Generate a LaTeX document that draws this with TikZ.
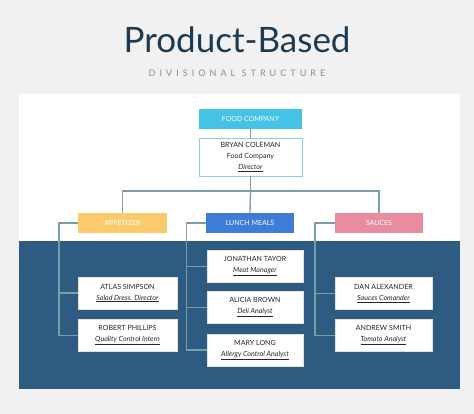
\documentclass[tikz,border=0pt]{standalone}
\usepackage{fontspec}
\setmainfont{Lato}
\definecolor{bgc}{HTML}{F1F1F1}
\definecolor{panelblue}{HTML}{2E5B81}
\definecolor{titlec}{HTML}{1C3A52}
\definecolor{subc}{HTML}{8A8A8A}
\definecolor{linec}{HTML}{7A9EA8}
\definecolor{foodc}{HTML}{45C3E6}
\definecolor{appc}{HTML}{FBCB6B}
\definecolor{lunchc}{HTML}{3D7DD8}
\definecolor{sauc}{HTML}{E98CA0}
\definecolor{bryb}{HTML}{8CCFD8}
\definecolor{childb}{HTML}{E6E1D3}
\definecolor{txtc}{HTML}{262626}
\newcommand{\roleline}[1]{\underline{\textit{#1}}}
\begin{document}
\begin{tikzpicture}[x=1pt,y=-1pt,
  headbox/.style={minimum width=88pt,minimum height=20pt,inner sep=0pt,text=white,font=\fontsize{7}{8}\selectfont},
  personbox/.style={draw=childb,line width=0.6pt,fill=white,minimum height=32pt,inner sep=0pt,align=center,text=txtc,font=\fontsize{7.1}{11}\selectfont},
  conn/.style={draw=linec,line width=1.3pt}]
\path[fill=bgc] (0,0) rectangle (474,414);
\fill[white] (19,94) rectangle (460,241);
\fill[panelblue] (19,241) rectangle (460,389);
\node[text=titlec,font=\fontsize{35}{40}\selectfont] (title) at (237,40) {Product-Based};
\node[text=subc,font=\fontsize{9}{10}\selectfont\addfontfeatures{LetterSpace=45}] (sub) at (237,73) {DIVISIONAL STRUCTURE};
% top
\node[headbox,fill=foodc,minimum width=103pt] (food) at (250.5,119) {FOOD COMPANY};
\node[personbox,draw=bryb,line width=0.8pt,minimum width=103pt,minimum height=38pt,font=\fontsize{7.1}{11.3}\selectfont] (bryan) at (250.5,157) {BRYAN COLEMAN\\Food Company\\\roleline{Director}};
% divisions
\node[headbox,fill=appc,minimum width=89pt] (app) at (122.5,223) {APPETIZER};
\node[headbox,fill=lunchc] (lunch) at (250,223) {LUNCH MEALS};
\node[headbox,fill=sauc] (sauces) at (379,223) {SAUCES};
% persons
\node[personbox,minimum width=99pt] (atlas) at (127.5,293) {ATLAS SIMPSON\\\roleline{Salad Dress. Director}};
\node[personbox,minimum width=99pt] (robert) at (127.5,335.5) {ROBERT PHILLIPS\\\roleline{Quality Control Intern}};
\node[personbox,minimum width=96pt] (jon) at (255,266.5) {JONATHAN TAYOR\\\roleline{Meat Manager}};
\node[personbox,minimum width=96pt] (alicia) at (255,307.5) {ALICIA BROWN\\\roleline{Deli Analyst}};
\node[personbox,minimum width=96pt] (mary) at (255,350) {MARY LONG\\\roleline{Allergy Control Analyst}};
\node[personbox,minimum width=97pt] (dan) at (383.5,293.5) {DAN ALEXANDER\\\roleline{Sauces Comander}};
\node[personbox,minimum width=97pt] (andrew) at (383.5,335.5) {ANDREW SMITH\\\roleline{Tomato Analyst}};
% connectors
\coordinate (bus) at (250.5,191);
\coordinate (abus) at (59,223);
\coordinate (lbus) at (186.5,223);
\coordinate (sbus) at (315,223);
\draw[conn] (food.south) -- (bryan.north);
\draw[conn] (bryan.south) -- (bus);
\draw[conn] (app.north) |- (bus) -| (sauces.north);
\draw[conn] (bus) -- (lunch.north);
\draw[conn] (app.west) -- (abus) |- (robert.west);
\draw[conn] (abus |- atlas.west) -- (atlas.west);
\draw[conn] (lunch.west) -- (lbus) |- (mary.west);
\draw[conn] (lbus |- jon.west) -- (jon.west);
\draw[conn] (lbus |- alicia.west) -- (alicia.west);
\draw[conn] (sauces.west) -- (sbus) |- (andrew.west);
\draw[conn] (sbus |- dan.west) -- (dan.west);
\end{tikzpicture}
\end{document}
